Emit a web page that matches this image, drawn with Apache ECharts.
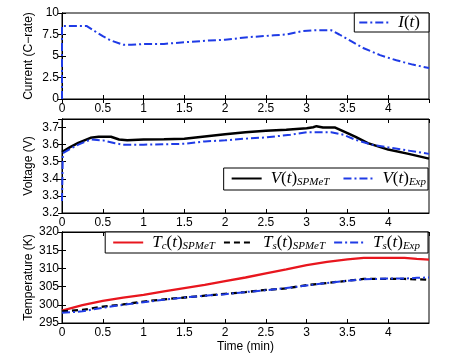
<!DOCTYPE html>
<html><head><meta charset="utf-8">
<script src="https://cdn.jsdelivr.net/npm/echarts@6/dist/echarts.min.js"></script>
<style>html,body{margin:0;padding:0;background:#fff}#c{width:474px;height:355px}</style>
</head><body><div id="c"></div>
<script>
// ---- data ----
const timeI = [0, 0, 0.05, 0.3, 0.4, 0.5, 0.6, 0.75, 0.85, 1.0, 1.25, 1.5, 1.8, 2.0, 2.3, 2.6, 2.75, 2.95, 3.1, 3.3, 3.4, 3.55, 3.7, 3.9, 4.1, 4.3, 4.5];
const currentI = [0, 8.5, 8.5, 8.5, 7.9, 7.3, 6.8, 6.3, 6.3, 6.4, 6.4, 6.6, 6.8, 6.9, 7.2, 7.4, 7.5, 7.9, 8.0, 8.0, 7.5, 6.7, 5.9, 5.1, 4.5, 4.0, 3.6];

const timeVsim = [0, 0.1, 0.2, 0.35, 0.45, 0.6, 0.7, 0.8, 1.0, 1.25, 1.5, 1.75, 2.0, 2.25, 2.5, 2.75, 3.0, 3.08, 3.12, 3.2, 3.35, 3.5, 3.6, 3.75, 4.0, 4.25, 4.5];
const voltSim = [3.557, 3.585, 3.61, 3.64, 3.646, 3.646, 3.63, 3.626, 3.63, 3.632, 3.635, 3.648, 3.661, 3.672, 3.681, 3.687, 3.696, 3.702, 3.708, 3.700, 3.700, 3.667, 3.645, 3.609, 3.571, 3.546, 3.518];

const timeVexp = [0, 0.01, 0.1, 0.2, 0.35, 0.5, 0.65, 0.75, 1.0, 1.25, 1.5, 1.75, 2.0, 2.25, 2.5, 2.8, 3.0, 3.3, 3.45, 3.6, 3.8, 4.0, 4.25, 4.5];
const voltExp = [3.27, 3.55, 3.575, 3.60, 3.63, 3.625, 3.608, 3.60, 3.60, 3.602, 3.605, 3.619, 3.625, 3.635, 3.642, 3.658, 3.673, 3.673, 3.658, 3.628, 3.600, 3.584, 3.565, 3.546];

const timeT = [0, 0.25, 0.5, 0.75, 1.0, 1.25, 1.5, 1.75, 2.0, 2.25, 2.5, 2.75, 3.0, 3.25, 3.5, 3.7, 4.0, 4.2, 4.35, 4.5];
const tempCoreSim = [298.4, 299.9, 301.1, 302.0, 302.7, 303.7, 304.6, 305.5, 306.5, 307.5, 308.6, 309.7, 310.9, 311.8, 312.5, 312.9, 312.9, 312.9, 312.6, 312.4];
const tempSurfSim = [298.2, 298.6, 299.5, 300.1, 300.9, 301.5, 302.0, 302.5, 303.0, 303.5, 304.1, 304.5, 305.4, 306.0, 306.6, 307.1, 307.1, 307.1, 307.0, 306.9];
const tempSurfExp = [297.8, 298.2, 299.2, 300.0, 300.7, 301.4, 302.0, 302.5, 302.9, 303.5, 304.0, 304.6, 305.3, 306.0, 306.6, 307.0, 307.2, 307.2, 307.4, 307.5];

const xTicks = {min: 0, max: 4.5, interval: 0.5};
const yAxesDef = [
  {min: 0, max: 10, interval: 2.5, name: 'Current (C\u2212rate)'},
  {min: 3.2, max: 3.75, interval: 0.1, name: 'Voltage (V)'},
  {min: 295, max: 320, interval: 5, name: 'Temperature (K)'}
];
// ---- layout ----
const grids = [
  {left: 62, right: 45, top: 13, height: 86},
  {left: 62, right: 45, top: 119, height: 94},
  {left: 62, right: 45, top: 232, height: 91}
];
const SANS = 'Liberation Sans, Arial, sans-serif';
const SERIF = 'Liberation Serif, DejaVu Serif, serif';
const BLUE = '#1f3be6';
const zip = (a, b) => a.map((v, i) => [v, b[i]]);

const xAxis = [], yAxis = [];
grids.forEach((g, i) => {
  const common = {type: 'value', gridIndex: i, min: xTicks.min, max: xTicks.max, interval: xTicks.interval,
    axisLine: {show: true, lineStyle: {color: '#000', width: 1}}, splitLine: {show: false},
    axisTick: {show: true, inside: true, length: 4, lineStyle: {color: '#000'}}};
  xAxis.push(Object.assign({}, common, {position: 'bottom',
    axisLabel: {show: true, margin: 4, color: '#000', fontFamily: SANS, fontSize: 12, showMaxLabel: false,
      formatter: v => String(v)},
    name: i === 2 ? 'Time (min)' : '', nameLocation: 'middle', nameGap: 18, nameMoveOverlap: false,
    nameTextStyle: {color: '#000', fontFamily: SANS, fontSize: 12}}));
  xAxis.push(Object.assign({}, common, {position: 'top', axisLabel: {show: false}}));
  const yd = yAxesDef[i];
  const yc = {type: 'value', gridIndex: i, min: yd.min, max: yd.max, interval: yd.interval,
    axisLine: {show: true, lineStyle: {color: '#000', width: 1}}, splitLine: {show: false},
    axisTick: {show: true, inside: true, length: 4, lineStyle: {color: '#000'}}};
  yAxis.push(Object.assign({}, yc, {position: 'left',
    axisLabel: {show: true, margin: 3, color: '#000', fontFamily: SANS, fontSize: 12, showMaxLabel: i !== 1,
      formatter: v => String(Math.round(v * 100) / 100)},
    name: yd.name, nameLocation: 'middle', nameGap: 27, nameRotate: 90, nameMoveOverlap: false,
    nameTextStyle: {color: '#000', fontFamily: SANS, fontSize: 12}}));
  yAxis.push(Object.assign({}, yc, {position: 'right', axisLabel: {show: false}}));
});

const labelMap = {
  'I': '{g| }{i|I}{r|(}{i|t}{r|)}',
  'Vsim': '{g| }{i|V}{r|(}{i|t}{r|)}{s|SPMeT}',
  'Vexp': '{g| }{i|V}{r|(}{i|t}{r|)}{s|Exp}',
  'Tc': '{g| }{i|T}{c|c}{r|(}{i|t}{r|)}{s|SPMeT}',
  'TsSim': '{g| }{i|T}{c|s}{r|(}{i|t}{r|)}{s|SPMeT}',
  'TsExp': '{g| }{i|T}{c|s}{r|(}{i|t}{r|)}{s|Exp}'
};
const rich = {
  g: {fontSize: 10, width: 4, lineHeight: 19},
  i: {fontFamily: SERIF, fontStyle: 'italic', fontSize: 17, lineHeight: 19, color: '#000'},
  r: {fontFamily: SERIF, fontSize: 17, lineHeight: 19, color: '#000'},
  c: {fontFamily: SERIF, fontStyle: 'italic', fontSize: 11, lineHeight: 19, verticalAlign: 'bottom', color: '#000'},
  s: {fontFamily: SERIF, fontStyle: 'italic', fontSize: 11, lineHeight: 19, verticalAlign: 'bottom', color: '#000'}
};
const legendBase = {orient: 'horizontal', backgroundColor: '#fff', borderColor: '#000', borderWidth: 1,
  itemWidth: 30, itemHeight: 14, selectedMode: false, formatter: n => labelMap[n],
  itemStyle: {color: 'rgba(0,0,0,0)', borderWidth: 0, opacity: 0},
  textStyle: {rich: rich}};

function line(name, xs, ys, gi, color, type, width) {
  return {name: name, type: 'line', xAxisIndex: gi * 2, yAxisIndex: gi * 2, data: zip(xs, ys),
    showSymbol: false, symbol: 'none', lineStyle: {color: color, width: width, type: type}, itemStyle: {color: color},
    animation: false, z: 3};
}
const series = [
  line('I', timeI, currentI, 0, BLUE, [8, 3, 2, 3], 2),
  line('Vsim', timeVsim, voltSim, 1, '#000', 'solid', 2.5),
  line('Vexp', timeVexp, voltExp, 1, BLUE, [8, 3, 2, 3], 2),
  line('Tc', timeT, tempCoreSim, 2, '#e8161e', 'solid', 2.3),
  line('TsSim', timeT, tempSurfSim, 2, '#000', [6, 4], 2.3),
  line('TsExp', timeT, tempSurfExp, 2, BLUE, [8, 3, 2, 3], 2)
];

const chart = echarts.init(document.getElementById('c'), null, {renderer: 'canvas'});
chart.setOption({
  animation: false,
  backgroundColor: '#fff',
  grid: grids.map(g => Object.assign({show: true, borderColor: '#000', borderWidth: 1, backgroundColor: 'transparent'}, g)),
  xAxis: xAxis, yAxis: yAxis,
  legend: [
    Object.assign({}, legendBase, {data: ['I'], right: 45, top: 13, padding: [1, 9, 1, 4]}),
    Object.assign({}, legendBase, {data: ['Vsim', 'Vexp'], right: 46, top: 168, itemGap: 13, padding: [2, 2, 2, 7]}),
    Object.assign({}, legendBase, {data: ['Tc', 'TsSim', 'TsExp'], right: 46, top: 232, itemGap: 8, padding: [2, 8, 1, 7]})
  ],
  series: series
});
</script></body></html>
